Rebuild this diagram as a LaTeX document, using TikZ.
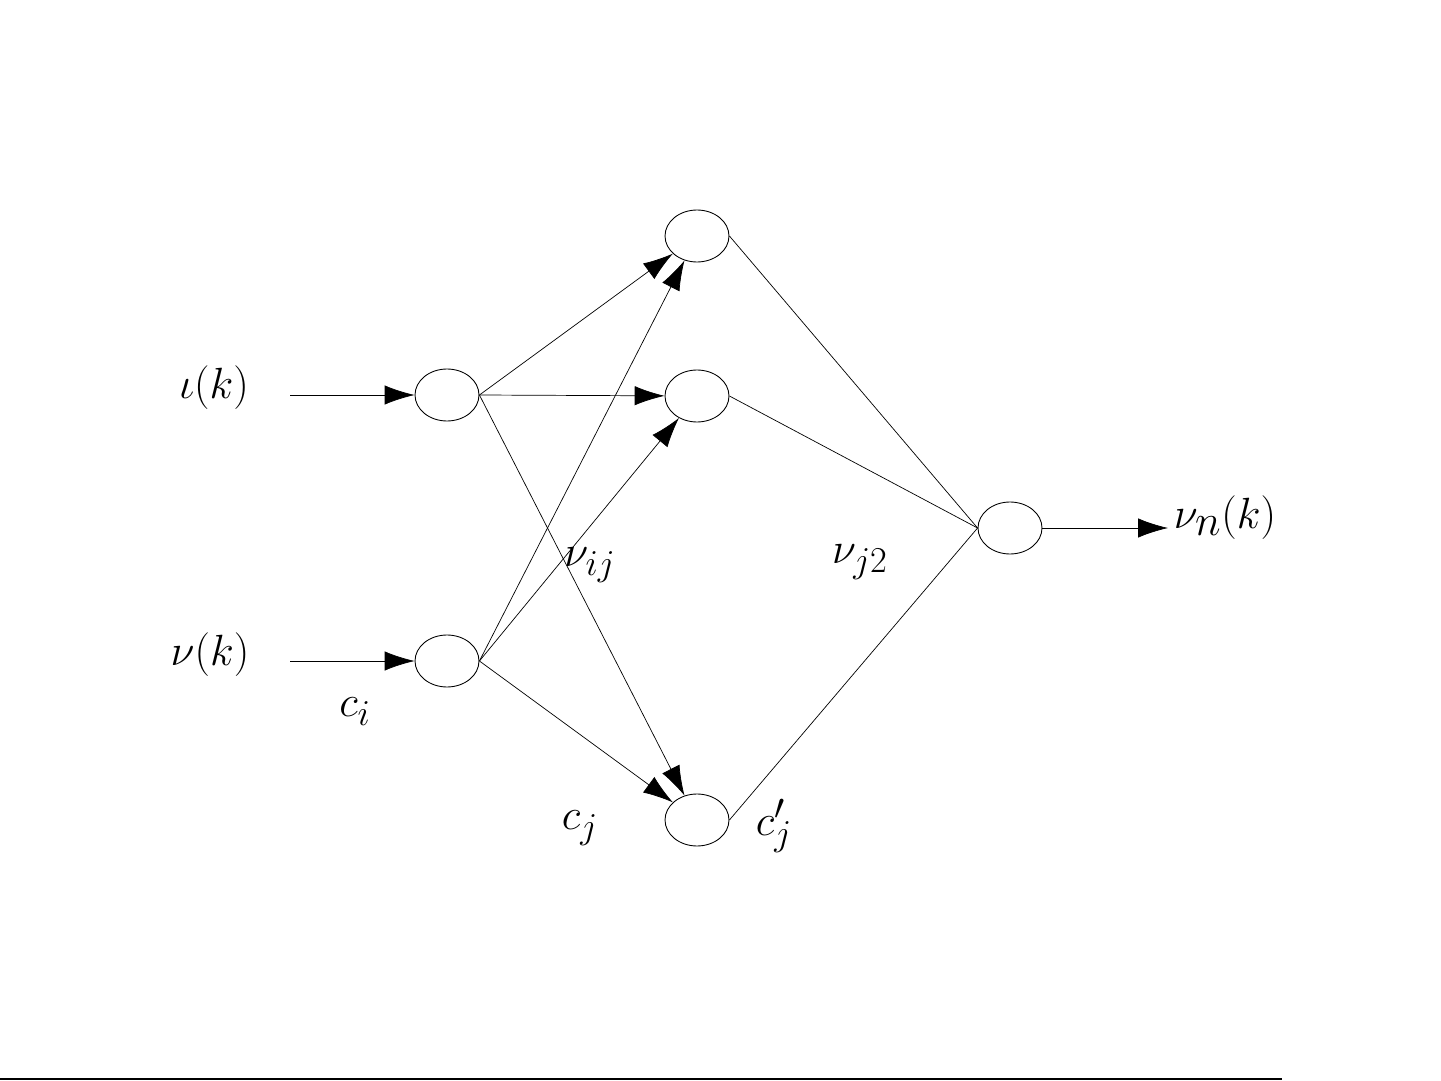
\documentclass[tikz,border=0pt]{standalone}
\usetikzlibrary{arrows.meta,shapes.geometric}
\begin{document}
\begin{tikzpicture}[x=0.02cm,y=-0.02cm,
  neu/.style={draw,ellipse,minimum width=1.28cm,minimum height=1.04cm,inner sep=0pt,line width=0.5pt},
  ln/.style={line width=0.4pt},
  arr/.style={ln,-{Latex[length=17pt,width=11pt]}},
  big/.style={font=\fontsize{36}{40}\selectfont},
  lab/.style={font=\fontsize{30}{34}\selectfont}]
\useasboundingbox (0,0) rectangle (1441,1081);
\node[neu] (i1) at (447,395) {};
\node[neu] (i2) at (447,661) {};
\node[neu] (h1) at (697,236) {};
\node[neu] (h2) at (697,396) {};
\node[neu] (h3) at (697,820) {};
\node[neu] (o) at (1010,528) {};
\coordinate (s1) at (290,395);
\coordinate (s2) at (290,661);
\coordinate (e) at (1168,528);
\node[big] (lu) at (214,388) {$\iota(k)$};
\node[big] (lv) at (210,655) {$\nu(k)$};
\node[big] (ly) at (1225,518) {$\nu_n(k)$};
\node[lab] (lij) at (590,565) {$\nu_{ij}$};
\node[lab] (lj2) at (860,562) {$\nu_{j2}$};
\node[lab] (lci) at (355,712) {$c_i$};
\node[lab] (lcj) at (580,828) {$c_j$};
\node[lab] (lcjp) at (774,826) {$c'_j$};
\draw[arr] (s1) -- (i1);
\draw[arr] (s2) -- (i2);
\draw[arr] (i1.east) -- (h1);
\draw[arr] (i1.east) -- (h2);
\draw[arr] (i1.east) -- (h3);
\draw[arr] (i2.east) -- (h1);
\draw[arr] (i2.east) -- (h2);
\draw[arr] (i2.east) -- (h3);
\draw[ln] (h1.east) -- (o.west);
\draw[ln] (h2.east) -- (o.west);
\draw[ln] (h3.east) -- (o.west);
\draw[arr] (o.east) -- (e);
\coordinate (b1) at (0,1079);
\coordinate (b2) at (1282,1079);
\draw[line width=1.2pt] (b1) -- (b2);
\end{tikzpicture}
\end{document}
